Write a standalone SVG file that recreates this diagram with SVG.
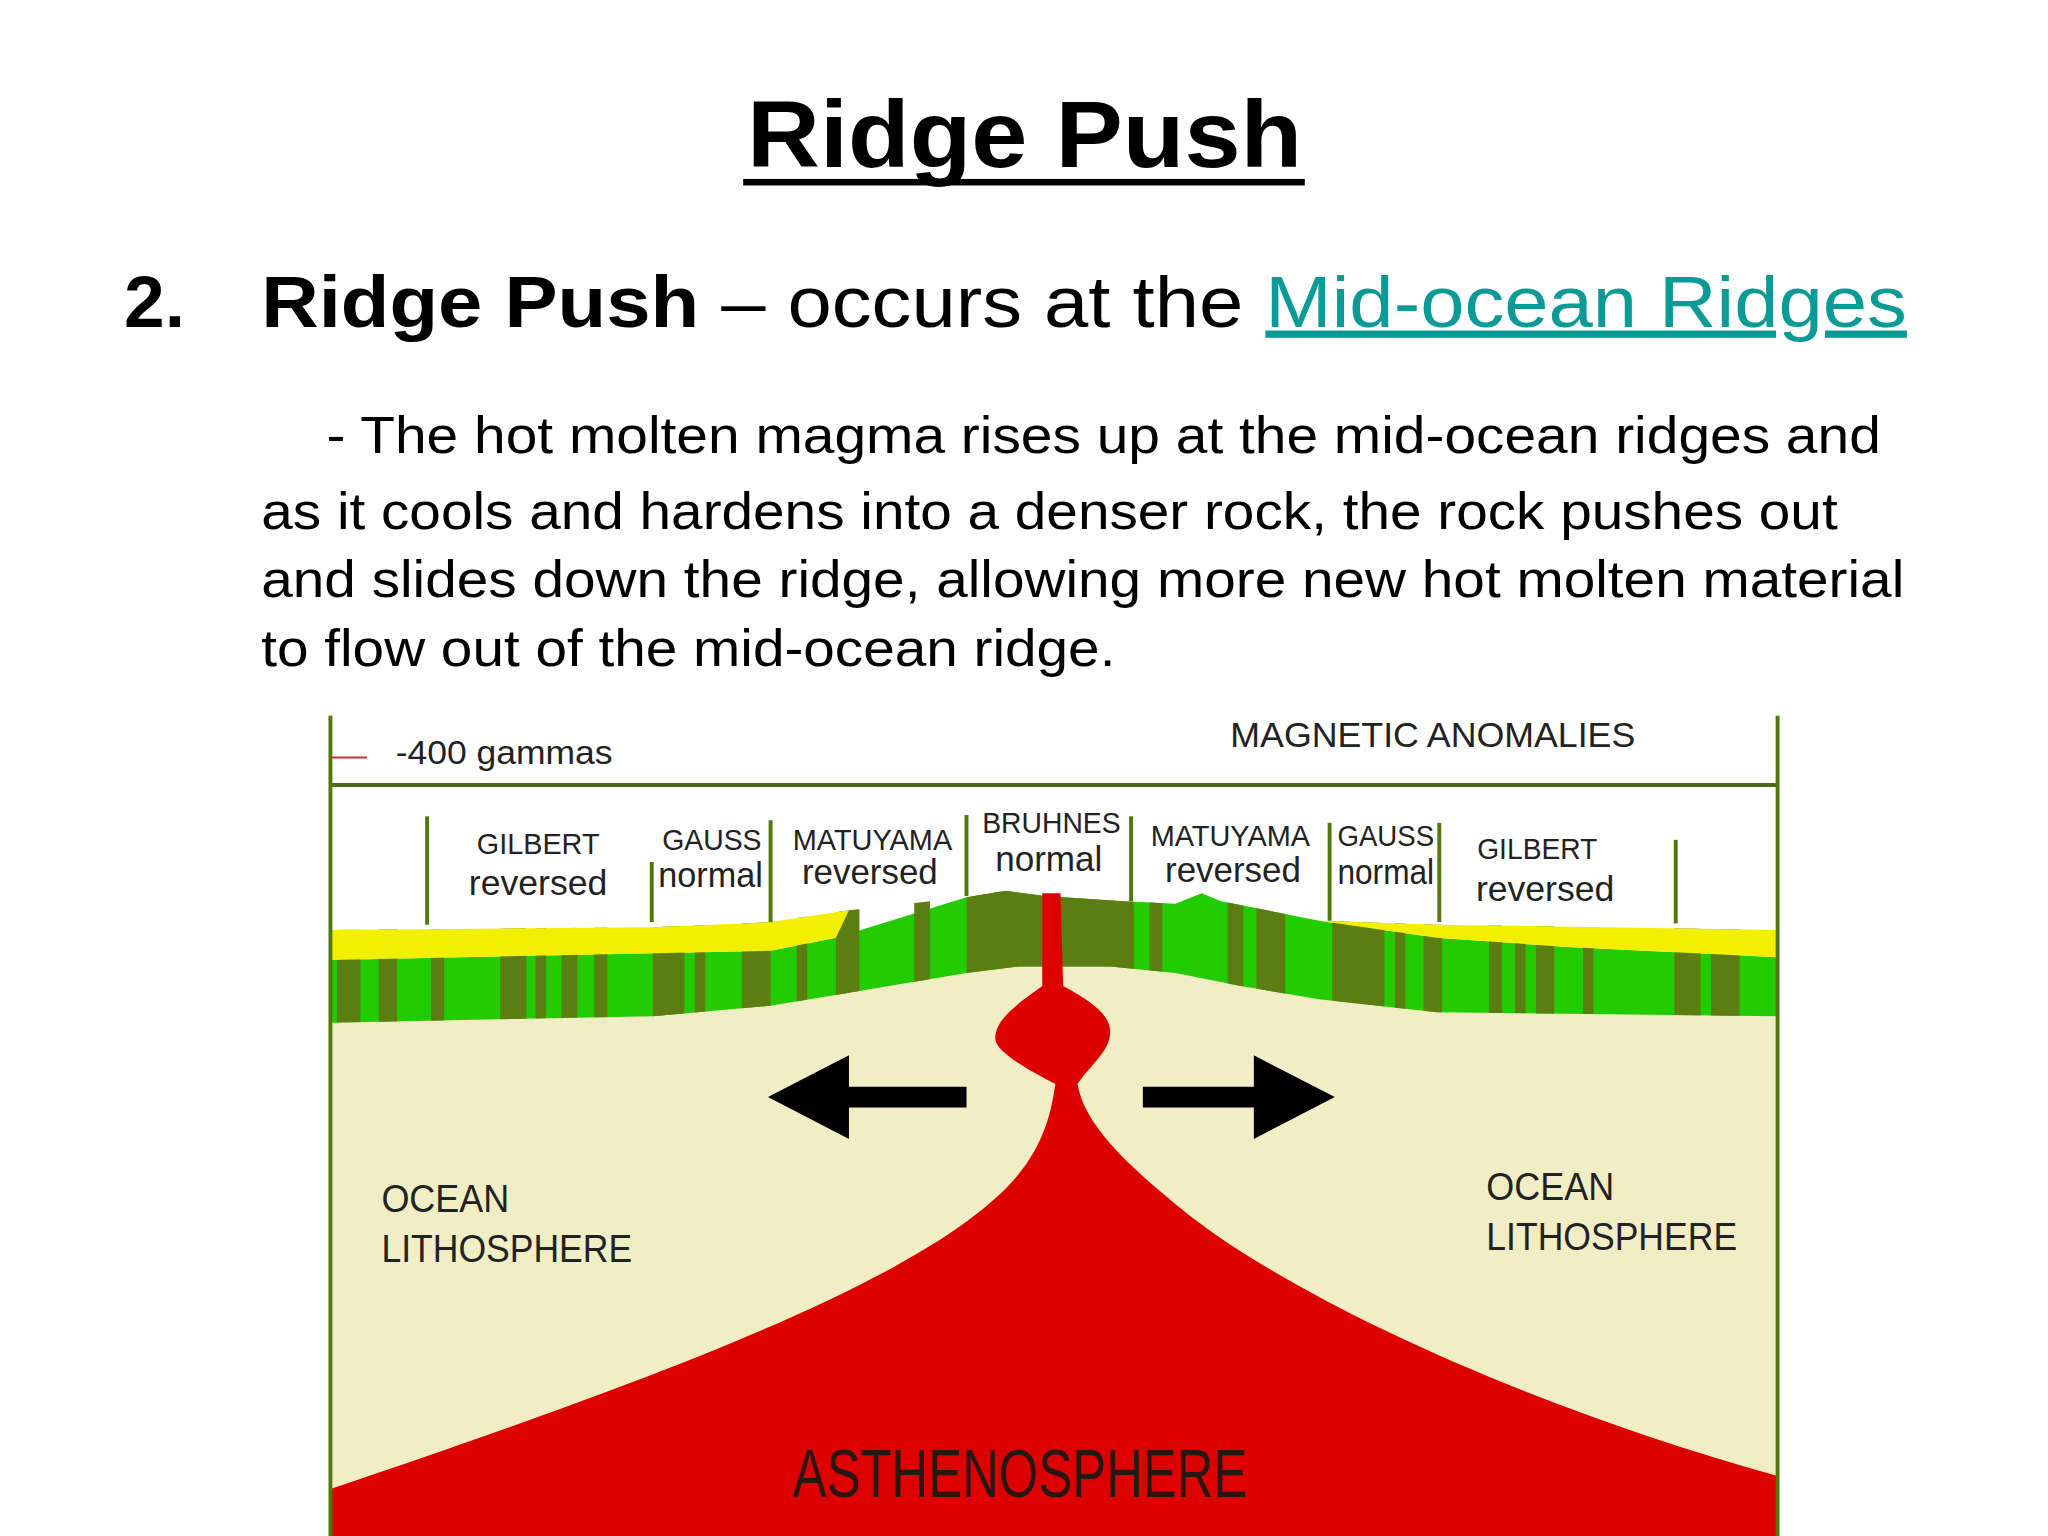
<svg xmlns="http://www.w3.org/2000/svg" width="2048" height="1536" viewBox="0 0 2048 1536">
<style>
.t{font-family:"Liberation Sans",Arial,sans-serif;fill:#000}
.n{font-family:"Liberation Sans",Arial,sans-serif;fill:#222}
.v{stroke:#4f7a0a;stroke-width:3}
.d{fill:#5b7d12}
</style>
<defs>
<clipPath id="band"><path d="M253,712 L500,710 L590,706 L650,697 L740,687 L770,682 L800,686 L860,690 L900,692 L920,684 L935,690 L1010,705 L1100,708 L1361,712 L1361,778 L1100,775 L1010,765 L950,755 L900,745 L850,740 L780,740 L740,745 L650,760 L590,770 L500,778 L253,783 Z"/></clipPath>
</defs>
<rect width="2048" height="1536" fill="#fff"/>
<g transform="scale(1.3061)">
<g id="title">
<text class="t" x="572" y="128" font-size="72" font-weight="bold" textLength="425" lengthAdjust="spacingAndGlyphs">Ridge Push</text>
<rect x="569" y="137" width="430" height="5" fill="#000"/>
</g>
<g id="heading">
<text class="t" x="95" y="250" font-size="56"><tspan font-weight="bold">2.</tspan></text>
<text class="t" x="200" y="250" font-size="56" textLength="1260" lengthAdjust="spacingAndGlyphs"><tspan font-weight="bold">Ridge Push</tspan> – occurs at the <tspan fill="#0b9a96" text-decoration="underline">Mid-ocean Ridges</tspan></text>
</g>
<g id="para" class="t" font-size="40">
<text x="250" y="347" textLength="1190" lengthAdjust="spacingAndGlyphs">- The hot molten magma rises up at the mid-ocean ridges and</text>
<text x="200" y="405" textLength="1207" lengthAdjust="spacingAndGlyphs">as it cools and hardens into a denser rock, the rock pushes out</text>
<text x="200" y="457" textLength="1258" lengthAdjust="spacingAndGlyphs">and slides down the ridge, allowing more new hot molten material</text>
<text x="200" y="510" textLength="654" lengthAdjust="spacingAndGlyphs">to flow out of the mid-ocean ridge.</text>
</g>
<g id="diagram">
<rect x="253" y="548" width="1108" height="628" fill="#f1edc4"/>
<rect x="253" y="548" width="1108" height="164" fill="#fff"/>
<path d="M253,700 L1361,700 L1361,712 L1100,708 L1010,705 L935,690 L920,684 L900,692 L860,690 L800,686 L770,682 L740,687 L650,697 L590,706 L500,710 L253,712 Z" fill="#fff"/>
<path d="M253,735 L590,728 L640,718 L740,687 L770,682 L800,686 L860,690 L900,692 L920,684 L935,690 L1010,705 L1100,718 L1200,725 L1361,733 L1361,778 L1100,775 L1010,765 L950,755 L900,745 L850,740 L780,740 L740,745 L650,760 L590,770 L500,778 L253,783 Z" fill="#22cc00"/>
<g clip-path="url(#band)">
<rect class="d" x="258" y="680" width="18" height="110"/><rect class="d" x="290" y="680" width="14" height="110"/>
<rect class="d" x="330" y="680" width="10" height="110"/><rect class="d" x="383" y="680" width="20" height="110"/>
<rect class="d" x="410" y="680" width="8" height="110"/><rect class="d" x="430" y="680" width="12" height="110"/>
<rect class="d" x="455" y="680" width="10" height="110"/><rect class="d" x="500" y="680" width="24" height="110"/>
<rect class="d" x="532" y="680" width="8" height="110"/><rect class="d" x="568" y="680" width="22" height="110"/>
<rect class="d" x="610" y="680" width="8" height="110"/><rect class="d" x="640" y="680" width="18" height="110"/>
<rect class="d" x="700" y="660" width="12" height="110"/><rect class="d" x="740" y="660" width="128" height="110"/>
<rect class="d" x="880" y="660" width="10" height="110"/><rect class="d" x="940" y="660" width="12" height="110"/>
<rect class="d" x="962" y="660" width="22" height="120"/><rect class="d" x="1020" y="660" width="40" height="120"/>
<rect class="d" x="1068" y="660" width="8" height="120"/><rect class="d" x="1090" y="660" width="14" height="120"/>
<rect class="d" x="1140" y="680" width="10" height="110"/><rect class="d" x="1160" y="680" width="8" height="110"/>
<rect class="d" x="1176" y="680" width="14" height="110"/><rect class="d" x="1212" y="680" width="8" height="110"/>
<rect class="d" x="1282" y="680" width="20" height="110"/><rect class="d" x="1310" y="680" width="22" height="110"/>
</g>
<path d="M253,712 L500,710 L590,706 L650,697 L640,718 L590,728 L253,735 Z M1010,705 L1100,708 L1361,712 L1361,733 L1200,725 L1100,718 Z" fill="#f2f000"/>
<path d="M253,1140 C520,1050 700,980 770,910 C800,880 805,850 808,830 C785,818 762,805 762,795 C762,780 780,768 798,755 L798,684 L812,684 L814,755 C838,768 850,778 850,790 C850,805 835,815 825,830 C830,860 860,890 910,930 C1000,1000 1180,1080 1361,1130 L1361,1176 L253,1176 Z" fill="#dd0000"/>
<line x1="253" y1="601" x2="1361" y2="601" stroke="#4a6a20" stroke-width="3"/>
<line x1="253" y1="548" x2="253" y2="1176" class="v"/>
<line x1="1361" y1="548" x2="1361" y2="1176" class="v"/>
<line x1="253" y1="580" x2="281" y2="580" stroke="#c33" stroke-width="1.5"/>
<path d="M588,840 L650,808 L650,832 L740,832 L740,848 L650,848 L650,872 Z" fill="#000"/>
<path d="M1022,840 L960,808 L960,832 L875,832 L875,848 L960,848 L960,872 Z" fill="#000"/>
<line class="v" x1="327" y1="625" x2="327" y2="708"/><line class="v" x1="499" y1="660" x2="499" y2="706"/>
<line class="v" x1="590" y1="628" x2="590" y2="706"/><line class="v" x1="740" y1="624" x2="740" y2="686"/>
<line class="v" x1="866" y1="625" x2="866" y2="690"/><line class="v" x1="1018" y1="630" x2="1018" y2="705"/>
<line class="v" x1="1102" y1="630" x2="1102" y2="706"/><line class="v" x1="1283" y1="643" x2="1283" y2="707"/>
<g class="n">
<text x="303" y="585" font-size="25" textLength="166" lengthAdjust="spacingAndGlyphs">-400 gammas</text>
<text x="942" y="572" font-size="27" textLength="310" lengthAdjust="spacingAndGlyphs">MAGNETIC ANOMALIES</text>
</g>
<g class="n" text-anchor="middle">
<text x="412" y="654" font-size="23" textLength="94" lengthAdjust="spacingAndGlyphs">GILBERT</text><text x="412" y="685" font-size="27" textLength="106" lengthAdjust="spacingAndGlyphs">reversed</text>
<text x="545" y="651" font-size="23" textLength="76" lengthAdjust="spacingAndGlyphs">GAUSS</text><text x="544" y="679" font-size="27" textLength="80" lengthAdjust="spacingAndGlyphs">normal</text>
<text x="668" y="651" font-size="23" textLength="122" lengthAdjust="spacingAndGlyphs">MATUYAMA</text><text x="666" y="677" font-size="27" textLength="104" lengthAdjust="spacingAndGlyphs">reversed</text>
<text x="805" y="638" font-size="23" textLength="106" lengthAdjust="spacingAndGlyphs">BRUHNES</text><text x="803" y="667" font-size="27" textLength="82" lengthAdjust="spacingAndGlyphs">normal</text>
<text x="942" y="648" font-size="23" textLength="122" lengthAdjust="spacingAndGlyphs">MATUYAMA</text><text x="944" y="675" font-size="27" textLength="104" lengthAdjust="spacingAndGlyphs">reversed</text>
<text x="1061" y="648" font-size="23" textLength="74" lengthAdjust="spacingAndGlyphs">GAUSS</text><text x="1061" y="677" font-size="27" textLength="74" lengthAdjust="spacingAndGlyphs">normal</text>
<text x="1177" y="658" font-size="23" textLength="92" lengthAdjust="spacingAndGlyphs">GILBERT</text><text x="1183" y="690" font-size="27" textLength="106" lengthAdjust="spacingAndGlyphs">reversed</text>
</g>
<g class="n" font-size="29">
<text x="292" y="928" textLength="98" lengthAdjust="spacingAndGlyphs">OCEAN</text><text x="292" y="966" textLength="192" lengthAdjust="spacingAndGlyphs">LITHOSPHERE</text>
<text x="1138" y="919" textLength="98" lengthAdjust="spacingAndGlyphs">OCEAN</text><text x="1138" y="957" textLength="192" lengthAdjust="spacingAndGlyphs">LITHOSPHERE</text>
</g>
<text class="n" x="607" y="1146" font-size="52" textLength="348" lengthAdjust="spacingAndGlyphs" style="fill:#2a1515">ASTHENOSPHERE</text>
</g>
</g>
</svg>
